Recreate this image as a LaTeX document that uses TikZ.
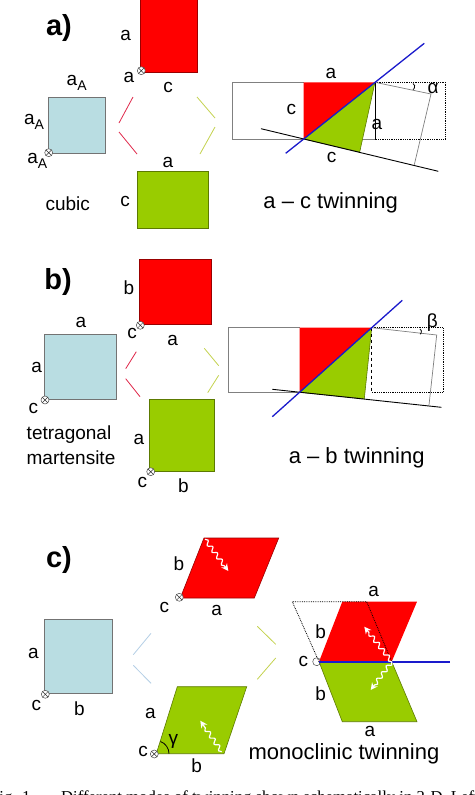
\documentclass[tikz,border=0pt]{standalone}
\usepackage{fontspec}
\setmainfont{Liberation Sans}
\newfontfamily\capfont{Liberation Serif}
\usepackage{tikz}
\usetikzlibrary{arrows.meta}
\usetikzlibrary{decorations.pathmorphing}
\definecolor{cubicblue}{HTML}{B9DDE2}
\definecolor{twinred}{HTML}{FF0000}
\definecolor{twingreen}{HTML}{99CC00}
\definecolor{tickred}{HTML}{E0284A}
\definecolor{tickgreen}{HTML}{C4D24E}
\definecolor{tickblue}{HTML}{B4CFE6}
\definecolor{twinblue}{HTML}{1A1ACC}
\tikzstyle{lab}=[inner sep=0pt,font=\fontsize{19}{19}\selectfont]
\tikzstyle{big}=[inner sep=0pt,font=\fontsize{22}{22}\selectfont]
\tikzstyle{tag}=[inner sep=0pt,font=\fontsize{29}{29}\selectfont\bfseries]
\tikzstyle{bluebox}=[fill=cubicblue,draw=black!55,line width=.8pt]
\tikzstyle{redbox}=[fill=twinred,draw=red!60!black,line width=.6pt]
\tikzstyle{greenbox}=[fill=twingreen,draw=twingreen!60!black,line width=.6pt]
\tikzstyle{greybox}=[draw=black!50,line width=.7pt]
\tikzstyle{dots}=[draw=black,line width=.8pt,densely dotted]
\tikzstyle{tick}=[line width=.8pt]
\tikzstyle{plane}=[draw=twinblue,line width=1.3pt]
\tikzstyle{wave}=[draw=white,line width=1.2pt,decorate,-{Stealth[open,length=7pt,width=7pt]},
  decoration={snake,amplitude=2pt,segment length=8pt,post length=5pt}]
\newcommand{\asub}{a\raisebox{-5pt}{\fontsize{14}{14}\selectfont A}}

\begin{document}
\begin{tikzpicture}[x=1pt,y=-1pt]
    \useasboundingbox (0,0) rectangle (474,795);
    \fill [white] (0,0) rectangle (474,795);

    % a)
    \node [tag] (taga) at (59,28) {a)};
    \draw [redbox] (140.5,-2) rectangle (197,72);
    \draw [greenbox] (137,171) rectangle (208,228);
    \draw [bluebox] (48,97) rectangle (105,153.5);
    \draw [tick,tickred] (133,97) -- (119,123);
    \draw [tick,tickred] (119,132) -- (137,154);
    \draw [tick,tickgreen] (197,97) -- (215,118);
    \draw [tick,tickgreen] (215,127) -- (200,154);
    \node [lab] (a1) at (125.7,35) {a};
    \node [lab] (a2) at (129,77) {a};
    \node [lab] (a3) at (168,87) {c};
    \node [lab] (a4) at (76.7,83) {\asub};
    \node [lab] (a5) at (34,122) {\asub};
    \node [lab] (a6) at (37.3,161) {\asub};
    \node [lab] (a7) at (67.7,204) {cubic};
    \node [lab] (a8) at (168,162) {a};
    \node [lab] (a9) at (125,201) {c};
    % a) twin
    \draw [greybox] (303.7,82.3) -- (232.3,82.3) -- (232.3,139) -- (303.7,139);
    \fill [twinred] (303.7,82.3) -- (375,82.3) -- (303.7,139) -- cycle;
    \draw [greenbox] (303.7,139) -- (375,82.3) -- (359.7,152) -- cycle;
    \draw [dots] (375,82.3) -- (445.7,82.3) -- (445.7,139) -- (375,139);
    \draw [black,line width=.9pt] (375,82.3) -- (375,139);
    \draw [greybox] (363,139) -- (375,139);
    \draw [greybox] (375,82.3) -- (431,94) -- (414.3,164.7);
    \draw [black,line width=.9pt] (261,128.7) -- (438.3,171.3);
    \draw [plane] (285.7,153.3) -- (424.3,43.3);
    \draw [black,line width=.8pt] (413,83.5) arc (-60:60:3.5);
    \node [lab] (a10) at (331,73) {a};
    \node [lab] (a11) at (291.3,109) {c};
    \node [lab] (a12) at (377,124) {a};
    \node [lab] (a13) at (331.7,157) {c};
    \node [lab] (alpha) at (433,88) {α};
    \node [big] (twina) at (330.7,203) {a -- c twinning};

    % b)
    \node [tag] (tagb) at (58,282) {b)};
    \draw [redbox] (139.7,259.7) rectangle (211,324.3);
    \draw [greenbox] (149.7,399.7) rectangle (214.7,471);
    \draw [bluebox] (44,334.7) rectangle (116,399.7);
    \draw [tick,tickred] (136.3,351.7) -- (125.7,368.7);
    \draw [tick,tickred] (125.7,378.7) -- (140,396.7);
    \draw [tick,tickgreen] (204.3,348.3) -- (218.7,365.7);
    \draw [tick,tickgreen] (218.7,375.3) -- (207.7,392.7);
    \node [lab] (b1) at (81,322) {a};
    \node [lab] (b2) at (36.7,367) {a};
    \node [lab] (b3) at (33.3,408) {c};
    \node [lab] (b4) at (69,435) {tetragonal};
    \node [lab] (b5) at (71,457.5) {martensite};
    \node [lab] (b6) at (129,288) {b};
    \node [lab] (b7) at (132,333) {c};
    \node [lab] (b8) at (172.7,340) {a};
    \node [lab] (b9) at (139,439) {a};
    \node [lab] (b10) at (142.3,482) {c};
    \node [lab] (b11) at (183.3,486) {b};
    % b) twin
    \draw [greybox] (299.7,327.7) -- (228,327.7) -- (228,392.3) -- (299.7,392.3);
    \fill [twinred] (299.7,327.7) -- (371.7,327.7) -- (299.7,392.3) -- cycle;
    \draw [greenbox] (299.7,392.3) -- (371.7,327.7) -- (364.3,398.7) -- cycle;
    \draw [dots] (371.7,327.7) -- (443.3,327.7) -- (443.3,392.3) -- (371.7,392.3);
    \draw [dashed,line width=1pt] (371.7,327.7) -- (371.7,392.3);
    \draw [greybox] (371.7,327.7) -- (436.7,335) -- (429,405);
    \draw [black,line width=.9pt] (272.3,389.3) -- (441.3,407.3);
    \draw [plane] (272.3,416.7) -- (402.3,300.3);
    \draw [black,line width=.8pt] (420,329) arc (-60:60:3);
    \node [lab] (beta) at (432.3,322.7) {β};
    \node [big] (twinb) at (356.7,457.5) {a -- b twinning};

    % c)
    \node [tag] (tagc) at (59,560) {c)};
    \draw [bluebox] (44.7,619) rectangle (112,693.3);
    \draw [redbox] (180.3,598) -- (254.3,598) -- (278.7,538) -- (204,538) -- cycle;
    \draw [greenbox] (156.3,753.7) -- (224,753.7) -- (246.7,686.7) -- (177.3,686.7) -- cycle;
    \draw [tick,tickblue] (151,633.3) -- (133.3,654.7);
    \draw [tick,tickblue] (133.3,665.3) -- (151,683.3);
    \draw [tick,tickgreen] (257.3,626.3) -- (275.7,644.3);
    \draw [tick,tickgreen] (275.7,658) -- (257.3,679.3);
    \node [lab] (c1) at (33.3,653) {a};
    \node [lab] (c2) at (36.3,705) {c};
    \node [lab] (c3) at (79.3,709) {b};
    \node [lab] (c4) at (179,564) {b};
    \node [lab] (c5) at (164.3,607) {c};
    \node [lab] (c6) at (216.7,610) {a};
    \node [lab] (c7) at (150.3,713) {a};
    \node [lab] (c8) at (143,751.5) {c};
    \node [lab] (c9) at (196.7,766) {b};
    \node [lab] (gamma) at (173.3,741) {γ};
    \draw [black,line width=.8pt] (169,753.7) arc (0:-70:13);
    \draw [wave] (205,539.3) -- (228.3,571);
    \draw [wave] (221.7,751.7) -- (200.3,720.7);
    % c) twin
    \fill [twinred] (319,661.7) -- (391.7,661.7) -- (417,601.7) -- (342.3,601.7) -- cycle;
    \draw [greenbox] (319,661.7) -- (391.7,661.7) -- (417,721.7) -- (342.3,721.7) -- cycle;
    \draw [dots] (319,661.7) -- (292.3,601.7) -- (366.7,601.7) -- (391.7,661.7);
    \draw [black!70,line width=.5pt] (316.7,661.7) circle [radius=4pt];
    \draw [plane,line width=2pt] (319,661.7) -- (450.3,661.7);
    \draw [wave] (391.7,661.7) -- (364.3,626.7);
    \draw [wave] (391.7,661.7) -- (370.7,690);
    \node [lab] (c10) at (373.7,591) {a};
    \node [lab] (c11) at (320.7,631.5) {b};
    \node [lab] (c12) at (303.3,661.5) {c};
    \node [lab] (c13) at (320.7,694) {b};
    \node [lab] (c14) at (370,731) {a};
    \node [big] (twinc) at (344,753.5) {monoclinic twinning};

    % axis marks
    \foreach \x/\y in {48.7/152.7,141.3/70.7,45/400,140.3/325.3,150.7/471.7,45.3/694.3,179.3/597.3,154.3/754} {
        \draw [fill=white,draw=black!70,line width=.5pt] (\x,\y) circle [radius=4pt];
        \draw [black!80,line width=.5pt] (\x-2.8,\y-2.8) -- (\x+2.8,\y+2.8) (\x-2.8,\y+2.8) -- (\x+2.8,\y-2.8);
    }

    \node [anchor=base west,inner sep=0pt,font=\capfont\fontsize{16.7}{16.7}\selectfont] (caption) at (-10,802) {Fig. 1. --- Different modes of twinning shown schematically in 2-D. Left};
\end{tikzpicture}
\end{document}
